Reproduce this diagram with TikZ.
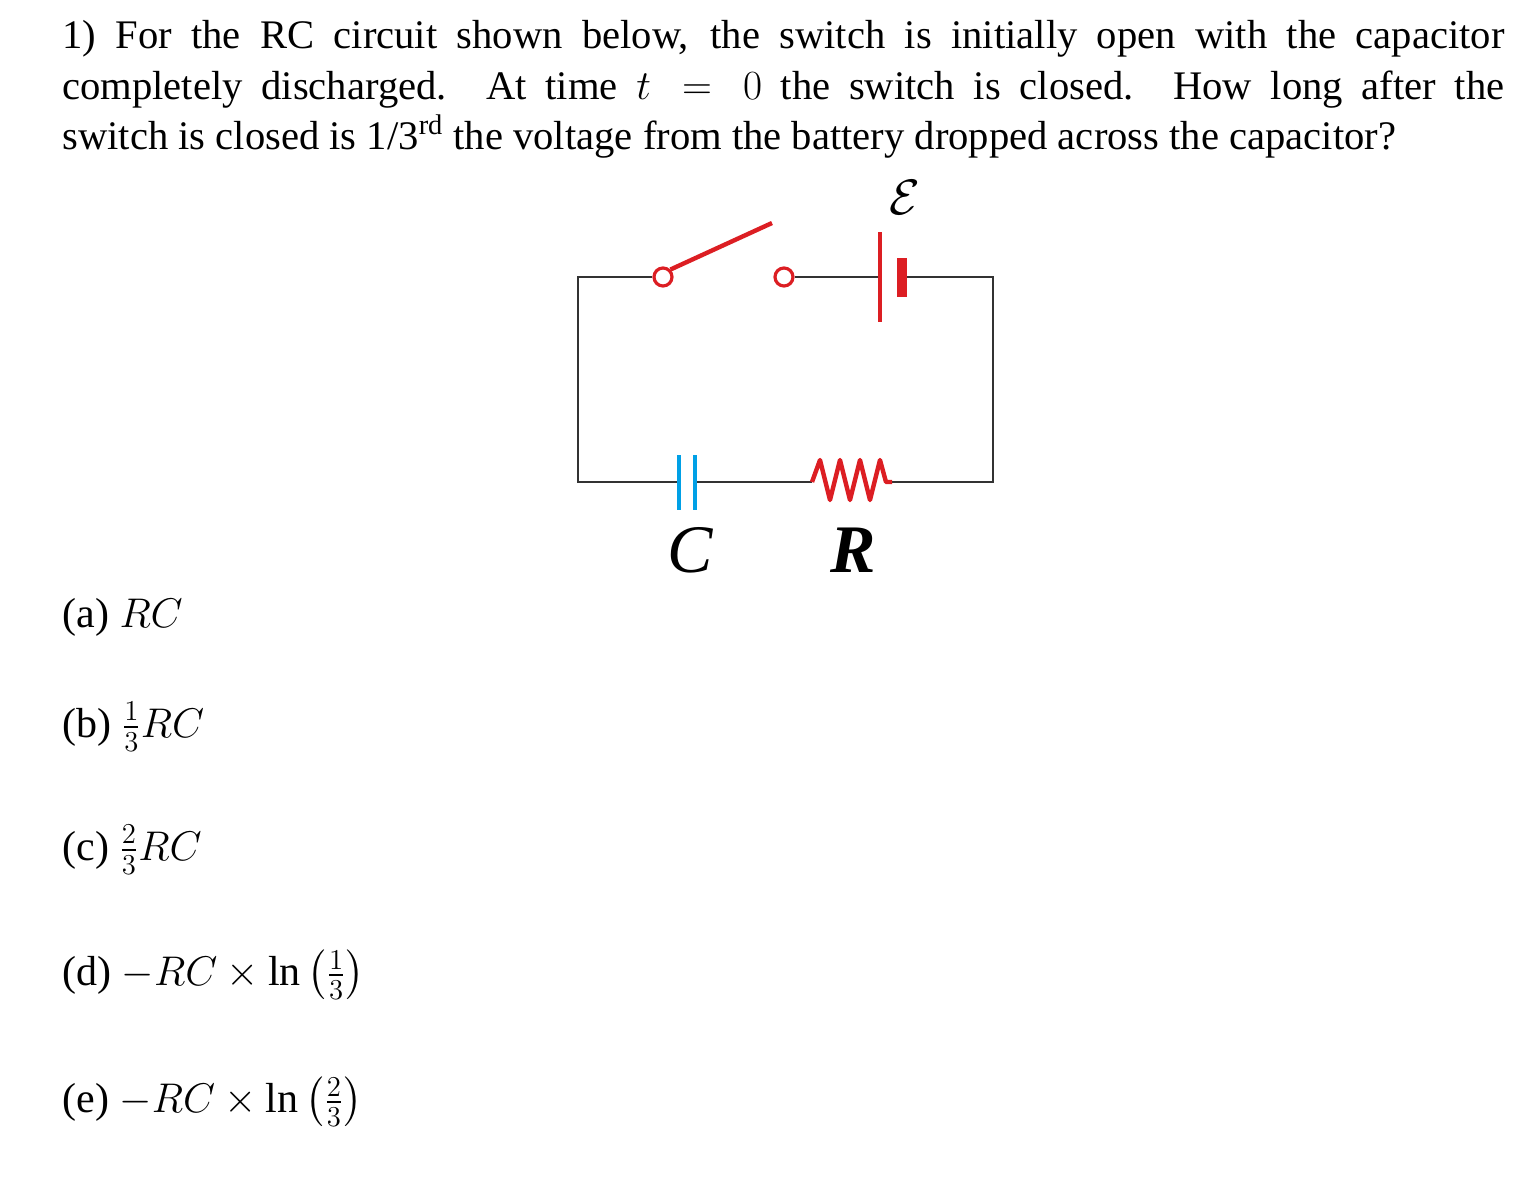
\documentclass[tikz,border=0pt]{standalone}
\usepackage{amsmath}
\usepackage{fontspec}
\setmainfont{Liberation Serif}
\begin{document}
\begin{tikzpicture}[x=0.5pt,y=-0.5pt,
  wire/.style={line width=1pt,black!80},
  red/.style={line width=2.2pt,draw={rgb,255:red,220;green,30;blue,35}},
  blue/.style={line width=2.2pt,draw={rgb,255:red,0;green,160;blue,230}},
  term/.style={circle,draw={rgb,255:red,220;green,30;blue,35},line width=1.6pt,fill=white,inner sep=0pt,minimum size=9pt},
  ans/.style={anchor=west,inner sep=0pt,font=\fontsize{21}{25}\selectfont}]
\useasboundingbox (0,0) rectangle (1532,1190);
\node[anchor=north west,inner sep=0pt,text width=721pt,align=justify,font=\fontsize{20.3}{25.3}\selectfont] (q) at (62,20)
{\hyphenpenalty=10000\exhyphenpenalty=10000 1) For the RC circuit shown below, the switch is initially open with the capacitor\linebreak completely discharged. At time $t=0$ the switch is closed. How long after the\linebreak switch is closed is 1/3\textsuperscript{rd} the voltage from the battery dropped across the capacitor?};
% circuit
\coordinate (tl) at (578,277); \coordinate (tr) at (993,277);
\coordinate (bl) at (578,482); \coordinate (br) at (993,482);
\node[term] (s1) at (663,277) {};
\node[term] (s2) at (784,277) {};
\coordinate (lev) at (772,223);
\coordinate (bat1) at (880,277); \coordinate (bat2) at (902,277);
\coordinate (c1) at (679,482); \coordinate (c2) at (695,482);
\coordinate (r1) at (812,482); \coordinate (r2) at (892,482);
\draw[wire] (s1.west) -- (tl) -- (bl) -- (c1);
\draw[wire] (s2.east) -- (bat1);
\draw[wire] (bat2) -- (tr) -- (br) -- (r2);
\draw[wire] (c2) -- (r1);
\draw[red] (s1.north east) -- (lev);
\draw[red] (880,232) -- (880,322);
\draw[red,line width=5pt] (902,258) -- (902,297);
\draw[blue] (679,455) -- (679,510);
\draw[blue] (695,455) -- (695,510);
\draw[red,line join=round] (r1) -- (820,460) -- (830,500) -- (840,460) -- (850,500) -- (860,460) -- (870,500) -- (880,460) -- (886,482) -- (r2);
\node[font=\fontsize{32}{32}\selectfont] (eps) at (905,197) {$\mathcal{E}$};
\node[font=\fontsize{34}{34}\selectfont\itshape] (C) at (690,550) {C};
\node[font=\fontsize{34}{34}\selectfont\itshape\bfseries] (R) at (853,550) {R};
% answers
\node[ans] (a) at (62,617) {(a) $RC$};
\node[ans] (b) at (62,727) {(b) $\tfrac{1}{3}RC$};
\node[ans] (c) at (62,850) {(c) $\tfrac{2}{3}RC$};
\node[ans] (d) at (62,975) {(d) $-RC\times\ln\left(\tfrac{1}{3}\right)$};
\node[ans] (e) at (62,1102) {(e) $-RC\times\ln\left(\tfrac{2}{3}\right)$};
\end{tikzpicture}
\end{document}
